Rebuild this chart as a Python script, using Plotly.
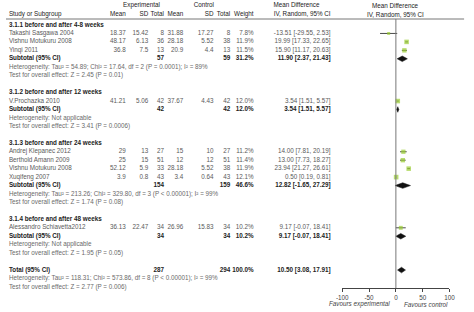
import plotly.graph_objects as go

# ---------------- data ----------------
group_titles = ["3.1.1 before and after 4-8 weeks", "3.1.2 before and after 12 weeks",
                "3.1.3 before and after 24 weeks", "3.1.4 before and after 48 weeks"]
study_names = [["Takashi Sasgawa 2004", "Vishnu Motukuru 2008", "Yinqi 2011"],
               ["V.Prochazka 2010"],
               ["Andrej Klepanec 2012", "Berthold Amann 2009", "Vishnu Motukuru 2008", "Xuqifeng 2007"],
               ["Alessandro Schiavetta2012"]]
exp_mean = [["18.37", "48.17", "36.8"], ["41.21"], ["29", "25", "52.12", "3.9"], ["36.13"]]
exp_sd = [["15.42", "6.13", "7.5"], ["5.06"], ["13", "15", "5.9", "0.8"], ["22.47"]]
exp_n = [[8, 36, 13], [42], [27, 51, 33, 43], [34]]
ctl_mean = [["31.88", "28.18", "20.9"], ["37.67"], ["15", "12", "28.18", "3.4"], ["26.96"]]
ctl_sd = [["17.27", "5.52", "4.4"], ["4.43"], ["10", "12", "5.52", "0.64"], ["15.83"]]
ctl_n = [[8, 38, 13], [42], [27, 51, 38, 43], [34]]
weights = [[7.8, 11.9, 11.5], [12.0], [11.2, 11.4, 11.9, 12.1], [10.2]]
md = [[-13.51, 19.99, 15.90], [3.54], [14.00, 13.00, 23.94, 0.50], [9.17]]
md_lo = [[-29.55, 17.33, 11.17], [1.51], [7.81, 7.73, 21.27, 0.19], [-0.07]]
md_hi = [[2.53, 22.65, 20.63], [5.57], [20.19, 18.27, 26.61, 0.81], [18.41]]

sub_exp_n = [57, 42, 154, 34]
sub_ctl_n = [59, 42, 159, 34]
sub_w = [31.2, 12.0, 46.6, 10.2]
sub_md = [11.90, 3.54, 12.82, 9.17]
sub_lo = [2.37, 1.51, -1.65, -0.07]
sub_hi = [21.43, 5.57, 27.29, 18.41]
sub_het = ["Heterogeneity: Tau² = 54.89; Chi² = 17.64, df = 2 (P = 0.0001); I² = 89%",
           "Heterogeneity: Not applicable",
           "Heterogeneity: Tau² = 213.26; Chi² = 329.80, df = 3 (P < 0.00001); I² = 99%",
           "Heterogeneity: Not applicable"]
sub_test = ["Test for overall effect: Z = 2.45 (P = 0.01)",
            "Test for overall effect: Z = 3.41 (P = 0.0006)",
            "Test for overall effect: Z = 1.74 (P = 0.08)",
            "Test for overall effect: Z = 1.95 (P = 0.05)"]
total_exp_n, total_ctl_n, total_w = 287, 294, 100.0
total_md, total_lo, total_hi = 10.50, 3.08, 17.91
total_het = "Heterogeneity: Tau² = 118.31; Chi² = 573.86, df = 8 (P < 0.00001); I² = 99%"
total_test = "Test for overall effect: Z = 2.77 (P = 0.006)"

axis_ticks = [-100, -50, 0, 50, 100]
favours_left = "Favours experimental"
favours_right = "Favours control"

# ---------------- layout constants ----------------
W, H = 474, 312
Y0, DY = 25, 8.45
HDR1, HDR2, HLINE = 5, 14, 19
AXIS_Y = 288
FONT = "Liberation Sans, Arial, sans-serif"
FS = 6.3
C_STUDY = "#5a5a5a"
C_DARK = "#222222"
C_HET = "#6a6a6a"
GREEN = "#9acd32"

# column right-edge positions (pixels)
COL = dict(name=3, em=123, esd=146, en=162, cm=182, csd=213, cn=230, w=254, ci=333)
FOREST_L, FOREST_R = 345, 455


def yrow(r):
    return Y0 + r * DY


def ci_text(m, l, h):
    return f"{m:.2f} [{l:.2f}, {h:.2f}]"


cols = {k: dict(x=[], y=[], t=[], c=[]) for k in COL}


def put(col, r_y, text, color, bold=False):
    d = cols[col]
    d["x"].append(COL[col])
    d["y"].append(r_y)
    d["t"].append(f"<b>{text}</b>" if bold else text)
    d["c"].append(color)


study_pts = dict(x=[], y=[], s=[])
ci_x, ci_y = [], []
diamonds = []

r = 0
for g in range(len(group_titles)):
    put("name", yrow(r), group_titles[g], C_DARK, True)
    r += 1
    for i, nm in enumerate(study_names[g]):
        y = yrow(r)
        put("name", y, nm, C_STUDY)
        put("em", y, exp_mean[g][i], C_STUDY)
        put("esd", y, exp_sd[g][i], C_STUDY)
        put("en", y, str(exp_n[g][i]), C_STUDY)
        put("cm", y, ctl_mean[g][i], C_STUDY)
        put("csd", y, ctl_sd[g][i], C_STUDY)
        put("cn", y, str(ctl_n[g][i]), C_STUDY)
        put("w", y, f"{weights[g][i]:.1f}%", C_STUDY)
        put("ci", y, ci_text(md[g][i], md_lo[g][i], md_hi[g][i]), C_STUDY)
        study_pts["x"].append(md[g][i])
        study_pts["y"].append(y)
        study_pts["s"].append(weights[g][i])
        ci_x += [md_lo[g][i], md_hi[g][i], None]
        ci_y += [y, y, None]
        r += 1
    y = yrow(r)
    put("name", y, "Subtotal (95% CI)", C_DARK, True)
    put("en", y, str(sub_exp_n[g]), C_DARK, True)
    put("cn", y, str(sub_ctl_n[g]), C_DARK, True)
    put("w", y, f"{sub_w[g]:.1f}%", C_DARK, True)
    put("ci", y, ci_text(sub_md[g], sub_lo[g], sub_hi[g]), C_DARK, True)
    diamonds.append((sub_md[g], sub_lo[g], sub_hi[g], y))
    put("name", yrow(r + 1), sub_het[g], C_HET)
    put("name", yrow(r + 2), sub_test[g], C_HET)
    r += 4

y = yrow(r)
put("name", y, "Total (95% CI)", C_DARK, True)
put("en", y, str(total_exp_n), C_DARK, True)
put("cn", y, str(total_ctl_n), C_DARK, True)
put("w", y, f"{total_w:.1f}%", C_DARK, True)
put("ci", y, ci_text(total_md, total_lo, total_hi), C_DARK, True)
diamonds.append((total_md, total_lo, total_hi, y))
put("name", yrow(r + 1), total_het, C_HET)
put("name", yrow(r + 2), total_test, C_HET)

# header rows
hdr2 = [("name", "Study or Subgroup"), ("em", "Mean"), ("esd", "SD"), ("en", "Total"),
        ("cm", "Mean"), ("csd", "SD"), ("cn", "Total"), ("w", "Weight"), ("ci", "IV, Random, 95% CI")]
for k, t in hdr2:
    put(k, HDR2, t, C_DARK)

fig = go.Figure()

# text columns
for k, d in cols.items():
    fig.add_trace(go.Scatter(
        x=d["x"], y=d["y"], text=d["t"], mode="text",
        textposition="middle right" if k == "name" else "middle left",
        textfont=dict(family=FONT, size=FS, color=d["c"]),
        xaxis="x", yaxis="y", hoverinfo="skip", showlegend=False, cliponaxis=False))

# centred headers
centre_hdr = [(139, "Experimental"), (203, "Control"), (298, "Mean Difference")]
fig.add_trace(go.Scatter(x=[c[0] for c in centre_hdr], y=[HDR1] * 3, text=[c[1] for c in centre_hdr],
                         mode="text", textposition="middle center",
                         textfont=dict(family=FONT, size=FS, color=C_DARK),
                         xaxis="x", yaxis="y", hoverinfo="skip", showlegend=False, cliponaxis=False))

# CI lines
fig.add_trace(go.Scatter(x=ci_x, y=ci_y, mode="lines", line=dict(color="#4a4a4a", width=1),
                         xaxis="x2", yaxis="y", hoverinfo="skip", showlegend=False, cliponaxis=False))
# study squares
fig.add_trace(go.Scatter(x=study_pts["x"], y=study_pts["y"], mode="markers",
                         marker=dict(symbol="square", color=GREEN,
                                     size=[w * 0.38 for w in study_pts["s"]], line=dict(width=0)),
                         xaxis="x2", yaxis="y", hoverinfo="skip", showlegend=False, cliponaxis=False))
# diamonds
HH = 2.8
for m, l, h, y in diamonds:
    fig.add_trace(go.Scatter(x=[l, m, h, m, l], y=[y, y - HH, y, y + HH, y], mode="lines",
                             fill="toself", fillcolor="#111111", line=dict(color="#111111", width=0.5),
                             xaxis="x2", yaxis="y", hoverinfo="skip", showlegend=False, cliponaxis=False))

# header line and zero line
fig.add_shape(type="line", xref="paper", yref="y", x0=0, x1=470 / W, y0=HLINE, y1=HLINE,
              line=dict(color="#777777", width=1))
fig.add_shape(type="line", xref="x2", yref="y", x0=0, x1=0, y0=HLINE, y1=AXIS_Y,
              line=dict(color="#777777", width=1))

fig.add_annotation(x=400, y=HDR1, xref="x", yref="y", text="Mean Difference", showarrow=False,
                   font=dict(family=FONT, size=FS, color=C_DARK))
fig.add_annotation(x=400, y=HDR2, xref="x", yref="y", text="IV, Random, 95% CI", showarrow=False,
                   font=dict(family=FONT, size=FS, color=C_DARK))
fig.add_annotation(x=-8, y=304, xref="x2", yref="y", text=f"<i>{favours_left}</i>", showarrow=False,
                   xanchor="right", font=dict(family=FONT, size=FS, color="#444444"))
fig.add_annotation(x=-8, y=304, xref="x2", yref="y", text=f"<i>{favours_right}</i>", showarrow=False,
                   xanchor="left", xshift=10, font=dict(family=FONT, size=FS, color="#444444"))

fig.update_layout(
    width=W, height=H, margin=dict(l=0, r=0, t=0, b=0),
    paper_bgcolor="white", plot_bgcolor="white",
    xaxis=dict(domain=[0, 1], range=[0, W], visible=False, fixedrange=True),
    xaxis2=dict(domain=[FOREST_L / W, FOREST_R / W], range=[-100, 100], anchor="free",
                position=1 - AXIS_Y / H, showline=True, linecolor="#444444", linewidth=1,
                ticks="outside", ticklen=3, tickcolor="#444444", tickvals=axis_ticks,
                ticktext=[str(t) for t in axis_ticks], tickfont=dict(family=FONT, size=FS, color="#444444"),
                showgrid=False, zeroline=False, fixedrange=True),
    yaxis=dict(domain=[0, 1], range=[H, 0], visible=False, fixedrange=True),
)

fig.write_html("out.html")
